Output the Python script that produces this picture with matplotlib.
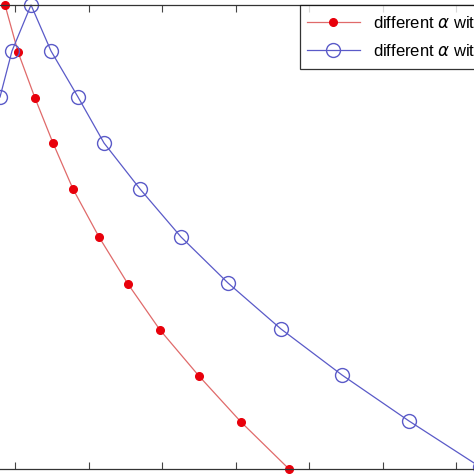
import matplotlib
matplotlib.use("Agg")
import matplotlib.pyplot as plt

plt.rcParams['font.family'] = ['Liberation Sans', 'DejaVu Sans']
plt.rcParams['mathtext.fontset'] = 'dejavusans'

red_x = [-0.136, 0.041, 0.272, 0.517, 0.789, 1.143, 1.537, 1.973, 2.503, 3.075, 3.728]
red_y = [464, 417, 371, 326, 280, 232, 185, 139, 93, 47, 0]
blue_x = [-0.204, -0.041, 0.218, 0.490, 0.857, 1.211, 1.701, 2.259, 2.898, 3.619, 4.449, 5.361, 6.33]
blue_y = [372, 418, 464, 418, 372, 326, 280, 232, 186, 140, 94, 48, 2]
labels = [r"different $\alpha$ with fixed $\beta$", r"different $\alpha$ with fixed $\gamma$"]

fig = plt.figure(figsize=(4.74, 4.74), dpi=100)
ax = fig.add_axes([0, 5/474, 1, 464/474])
ax.plot(red_x, red_y, color="#e06a6a", lw=0.9, marker="o", ms=5.5, mfc="#e8000b", mec="#e8000b", label=labels[0], clip_on=False)
ax.plot(blue_x, blue_y, color="#5a5ac8", lw=0.9, marker="o", ms=10, mfc="none", mec="#5a5ac8", label=labels[1], clip_on=False)
ax.set_xlim(-15/73.5, 459/73.5)
ax.set_ylim(0, 464)
ax.set_xticks(range(0, 7))
ax.set_xticklabels([])
ax.set_yticks([])
ax.tick_params(axis="x", direction="in", length=5, top=True, width=0.8, color="#444444")
for s in ["left", "right"]:
    ax.spines[s].set_visible(False)
for s in ["top", "bottom"]:
    ax.spines[s].set_color("#333333")
    ax.spines[s].set_linewidth(0.9)
leg = fig.legend(loc="upper left", bbox_to_anchor=(300/474, 1 - 5/474), fontsize=12,
                 frameon=True, fancybox=False, edgecolor="black", handlelength=3.2,
                 borderaxespad=0, borderpad=0.4, labelspacing=0.5)
leg.get_frame().set_linewidth(0.9)
fig.savefig("out.png", dpi=100)
